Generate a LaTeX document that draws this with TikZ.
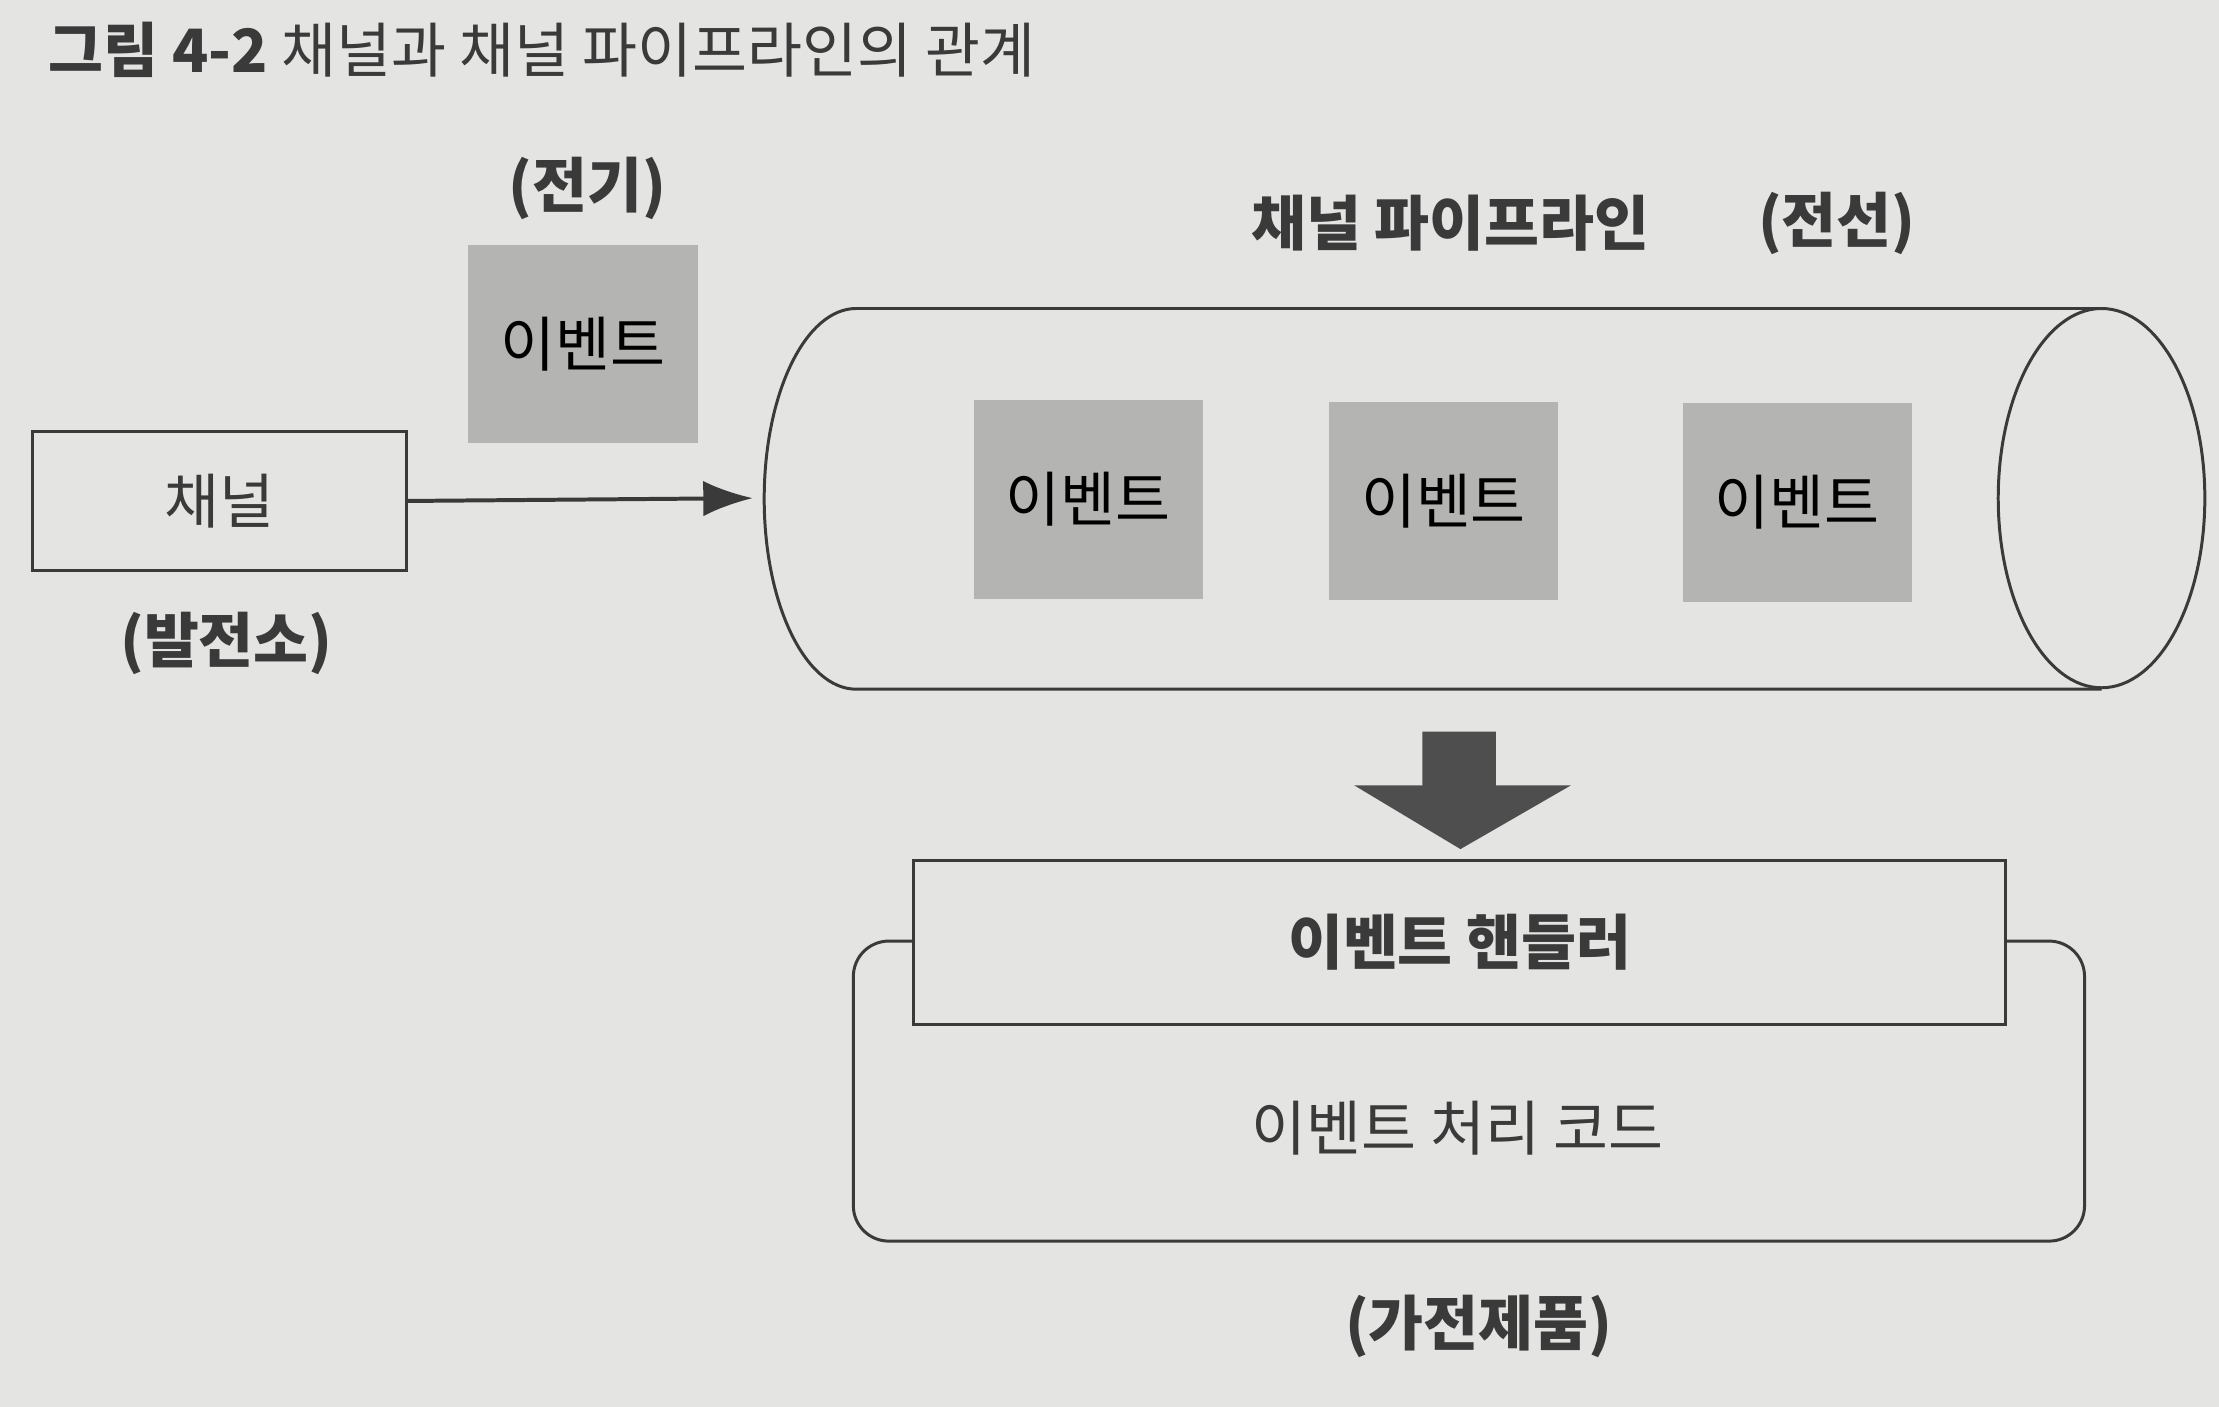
\documentclass[tikz,border=0pt]{standalone}
\usetikzlibrary{arrows.meta}
\usepackage{fontspec}
\setmainfont{Noto Sans CJK KR}
\definecolor{bg}{HTML}{E4E4E2}
\definecolor{ev}{HTML}{B4B4B2}
\definecolor{ln}{HTML}{3A3A3A}
\begin{document}
\begin{tikzpicture}[x=0.01cm,y=-0.01cm,
  box/.style={draw=ln,line width=0.6pt},
  evt/.style={fill=ev,minimum width=1.62cm,minimum height=1.4cm,inner sep=0pt,font=\fontsize{12pt}{14pt}\selectfont},
  lbl/.style={font=\fontsize{12pt}{14pt}\selectfont\bfseries,text=ln},
  txt/.style={font=\fontsize{12pt}{14pt}\selectfont,text=ln}]
\fill[bg] (0,0) rectangle (1568,994);
\useasboundingbox (0,0) rectangle (1568,994);
\node[anchor=west,font=\fontsize{12pt}{14pt}\selectfont,text=ln] (title) at (22,35) {\textbf{그림 4-2} 채널과 채널 파이프라인의 관계};
% channel
\node[box,txt,minimum width=2.64cm,minimum height=0.98cm,inner sep=0pt] (ch) at (155,354) {채널};
\node[lbl] (plant) at (160,455) {(발전소)};
\node[evt] (e0) at (412,243) {이벤트};
\node[lbl] (elec) at (415,133) {(전기)};
% cylinder
\draw[box] (1485,218) -- (605,218) arc[start angle=270,end angle=90,x radius=65,y radius=134.5] -- (1485,487);
\draw[box] (1485,352) ellipse[x radius=73,y radius=134];
\coordinate (cylin) at (532,352);
\draw[ln,line width=0.8pt,-{Latex[length=0.35cm,width=0.25cm]}] (ch.east) -- (cylin);
\node[evt] (e1) at (769,353) {이벤트};
\node[evt] (e2) at (1020,354) {이벤트};
\node[evt] (e3) at (1270,355) {이벤트};
\node[lbl] (pipe) at (1025,158) {채널 파이프라인};
\node[lbl] (wire) at (1298,158) {(전선)};
% big arrow
\fill[ln!90] (1005,517) -- (1057,517) -- (1057,555) -- (1110,555) -- (1032,600) -- (957,555) -- (1005,555) -- cycle;
% handler
\draw[box,rounded corners=0.25cm] (603,665) rectangle (1473,877);
\node[box,fill=bg,lbl,minimum width=7.71cm,minimum height=1.16cm,inner sep=0pt] (hd) at (1031.5,666) {이벤트 핸들러};
\node[txt] (code) at (1030,797) {이벤트 처리 코드};
\node[lbl] (app) at (1045,937) {(가전제품)};
\end{tikzpicture}
\end{document}
